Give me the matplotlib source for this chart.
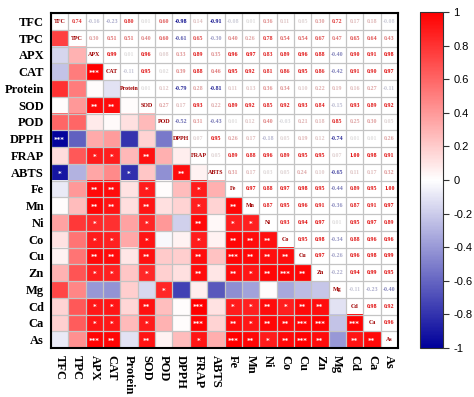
import numpy as np
import matplotlib
matplotlib.use('Agg')
import matplotlib.pyplot as plt
from matplotlib.colors import LinearSegmentedColormap, Normalize

names = ['TFC', 'TPC', 'APX', 'CAT', 'Protein', 'SOD', 'POD', 'DPPH', 'FRAP', 'ABTS',
         'Fe', 'Mn', 'Ni', 'Co', 'Cu', 'Zn', 'Mg', 'Cd', 'Ca', 'As']

# upper triangle, row by row (columns to the right of the diagonal)
upper = [
    [0.74, -0.16, -0.23, 0.80, 0.01, 0.60, -0.98, 0.14, -0.91, -0.08, 0.01, 0.36, 0.11, 0.05, 0.30, 0.72, 0.17, 0.18, -0.08],
    [0.30, 0.51, 0.51, 0.40, 0.60, -0.61, 0.65, -0.30, 0.40, 0.26, 0.78, 0.54, 0.54, 0.67, 0.47, 0.65, 0.64, 0.43],
    [0.99, 0.01, 0.96, 0.08, 0.33, 0.89, 0.35, 0.96, 0.97, 0.83, 0.89, 0.96, 0.88, -0.40, 0.90, 0.91, 0.98],
    [-0.11, 0.95, 0.02, 0.39, 0.88, 0.46, 0.95, 0.92, 0.81, 0.86, 0.95, 0.86, -0.42, 0.91, 0.90, 0.97],
    [0.01, 0.12, -0.79, 0.28, -0.81, 0.11, 0.13, 0.36, 0.34, 0.10, 0.22, 0.19, 0.16, 0.27, -0.11],
    [0.27, 0.17, 0.93, 0.22, 0.89, 0.92, 0.85, 0.92, 0.93, 0.84, -0.15, 0.93, 0.89, 0.92],
    [-0.52, 0.31, -0.43, 0.01, 0.12, 0.40, -0.03, 0.21, 0.18, 0.85, 0.25, 0.30, 0.05],
    [0.07, 0.95, 0.26, 0.17, -0.18, 0.05, 0.19, 0.12, -0.74, 0.01, 0.01, 0.26],
    [0.05, 0.89, 0.88, 0.96, 0.89, 0.95, 0.95, 0.07, 1.00, 0.98, 0.91],
    [0.31, 0.17, 0.03, 0.05, 0.24, 0.10, -0.65, 0.11, 0.17, 0.32],
    [0.97, 0.88, 0.97, 0.98, 0.95, -0.44, 0.89, 0.95, 1.00],
    [0.87, 0.95, 0.96, 0.91, -0.36, 0.87, 0.91, 0.97],
    [0.93, 0.94, 0.97, 0.01, 0.95, 0.97, 0.89],
    [0.95, 0.98, -0.34, 0.88, 0.96, 0.96],
    [0.97, -0.26, 0.96, 0.98, 0.99],
    [-0.22, 0.94, 0.99, 0.95],
    [-0.11, -0.23, -0.40],
    [0.98, 0.92],
    [0.96],
]

stars = {
    'CAT': {'APX': '***'},
    'SOD': {'APX': '**', 'CAT': '**'},
    'DPPH': {'TFC': '***'},
    'FRAP': {'APX': '*', 'CAT': '*', 'SOD': '**'},
    'ABTS': {'TFC': '*', 'Protein': '*', 'DPPH': '**'},
    'Fe': {'APX': '**', 'CAT': '**', 'SOD': '*', 'FRAP': '*'},
    'Mn': {'APX': '**', 'CAT': '**', 'SOD': '**', 'FRAP': '*', 'Fe': '**'},
    'Ni': {'APX': '*', 'SOD': '*', 'FRAP': '**', 'Fe': '*', 'Mn': '*'},
    'Co': {'APX': '*', 'CAT': '*', 'SOD': '*', 'FRAP': '*', 'Fe': '**', 'Mn': '**', 'Ni': '**'},
    'Cu': {'APX': '**', 'CAT': '**', 'SOD': '**', 'FRAP': '**', 'Fe': '***', 'Mn': '**', 'Ni': '**', 'Co': '**'},
    'Zn': {'APX': '*', 'CAT': '*', 'SOD': '*', 'FRAP': '**', 'Fe': '**', 'Mn': '*', 'Ni': '**', 'Co': '***', 'Cu': '**'},
    'Mg': {'POD': '*'},
    'Cd': {'APX': '*', 'CAT': '*', 'SOD': '**', 'FRAP': '***', 'Fe': '*', 'Mn': '*', 'Ni': '**', 'Co': '*', 'Cu': '**', 'Zn': '**'},
    'Ca': {'APX': '*', 'CAT': '*', 'SOD': '*', 'FRAP': '***', 'Fe': '**', 'Mn': '*', 'Ni': '**', 'Co': '**', 'Cu': '***', 'Zn': '***', 'Cd': '***'},
    'As': {'APX': '***', 'CAT': '**', 'SOD': '**', 'FRAP': '*', 'Fe': '***', 'Mn': '**', 'Ni': '*', 'Co': '**', 'Cu': '***', 'Zn': '**', 'Cd': '**', 'Ca': '**'},
}

n = len(names)
corr = np.eye(n)
for i, row in enumerate(upper):
    for k, v in enumerate(row):
        j = i + 1 + k
        corr[i, j] = v
        corr[j, i] = v

cmap = LinearSegmentedColormap.from_list('bwr2', ['#00009a', '#ffffff', '#ff0000'])
cmap.set_bad('white')
norm = Normalize(-1, 1)

lower = np.full((n, n), np.nan)
for i in range(n):
    for j in range(i):
        lower[i, j] = corr[i, j]

fig = plt.figure(figsize=(4.74, 3.97), dpi=100)
ax = fig.add_axes([0.1076, 0.1234, 0.7321, 0.8436])
im = ax.imshow(lower, cmap=cmap, norm=norm, aspect='auto', interpolation='nearest')

serif = 'Liberation Serif'
for i in range(n):
    for j in range(n):
        if i == j:
            ax.text(j, i, names[i], ha='center', va='center', fontsize=4.3,
                    color='#a00000', family=serif, fontweight='bold')
        elif j > i:
            v = corr[i, j]
            c = np.array(cmap(norm(v))[:3]) * 0.88
            ax.text(j, i, '%.2f' % v, ha='center', va='center', fontsize=4.3,
                    color=c, family=serif, fontweight='bold')
        else:
            s = stars.get(names[i], {}).get(names[j], '')
            if s:
                ax.text(j, i + 0.08, s, ha='center', va='center', fontsize=5,
                        color='white', fontweight='bold')

ax.set_xticks(range(n))
ax.set_yticks(range(n))
ax.set_xticklabels(names, rotation=-90, family=serif, fontweight='bold', fontsize=9)
ax.set_yticklabels(names, family=serif, fontweight='bold', fontsize=9)
ax.tick_params(length=0, pad=5)
ax.set_xticks(np.arange(-0.5, n, 1), minor=True)
ax.set_yticks(np.arange(-0.5, n, 1), minor=True)
ax.grid(which='minor', color='#c4c4c4', linewidth=0.9)
ax.tick_params(which='minor', length=0)
for sp in ax.spines.values():
    sp.set_linewidth(1.5)
    sp.set_color('black')

cax = fig.add_axes([0.886, 0.1234, 0.0485, 0.8464])
cb = fig.colorbar(im, cax=cax, ticks=np.linspace(-1, 1, 11))
cb.ax.set_yticklabels(['-1', '-0.8', '-0.6', '-0.4', '-0.2', '0', '0.2', '0.4', '0.6', '0.8', '1'])
cb.ax.tick_params(labelsize=8, length=4, width=0.8, color='#333333')
for t in cb.ax.get_yticklabels():
    t.set_family('Liberation Sans')
cb.outline.set_linewidth(0.8)
cb.outline.set_edgecolor('#333333')

fig.savefig('out.png', dpi=100)
